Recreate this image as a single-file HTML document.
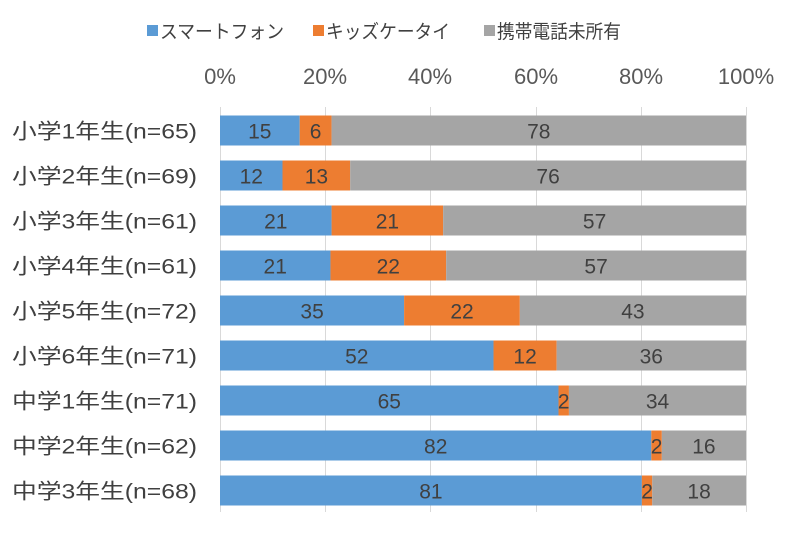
<!DOCTYPE html>
<html><head><meta charset="utf-8"><style>
body{margin:0;background:#fff;width:800px;height:534px;overflow:hidden;font-family:"Liberation Sans","Noto Sans CJK JP",sans-serif;}
</style></head><body>
<svg width="800" height="534" xmlns="http://www.w3.org/2000/svg" font-family="Liberation Sans, Noto Sans CJK JP, sans-serif">
<g font-size="19" fill="#404040">
<rect x="147" y="25" width="11" height="11" fill="#5B9BD5"/><text x="160" y="38" textLength="124" lengthAdjust="spacingAndGlyphs">スマートフォン</text>
<rect x="313" y="25" width="11" height="11" fill="#ED7D31"/><text x="326" y="38" textLength="124" lengthAdjust="spacingAndGlyphs">キッズケータイ</text>
<rect x="484" y="25" width="11" height="11" fill="#A5A5A5"/><text x="497" y="38" textLength="124" lengthAdjust="spacingAndGlyphs">携帯電話未所有</text>
</g>
<g font-size="22" fill="#595959" text-anchor="middle">
<text x="220" y="84">0%</text><text x="325" y="84">20%</text><text x="430" y="84">40%</text><text x="536" y="84">60%</text><text x="641" y="84">80%</text><text x="746" y="84">100%</text>
</g>
<g stroke="#D9D9D9" stroke-width="1">
<line x1="220.5" y1="107" x2="220.5" y2="512"/><line x1="325.5" y1="107" x2="325.5" y2="512"/><line x1="430.5" y1="107" x2="430.5" y2="512"/><line x1="536.5" y1="107" x2="536.5" y2="512"/><line x1="641.5" y1="107" x2="641.5" y2="512"/><line x1="746.5" y1="107" x2="746.5" y2="512"/>
</g>
<g>
<rect x="220" y="115.5" width="79.70" height="30" fill="#5B9BD5"/><rect x="299.70" y="115.5" width="31.88" height="30" fill="#ED7D31"/><rect x="331.58" y="115.5" width="414.42" height="30" fill="#A5A5A5"/>
<rect x="220" y="160.5" width="62.50" height="30" fill="#5B9BD5"/><rect x="282.50" y="160.5" width="67.70" height="30" fill="#ED7D31"/><rect x="350.20" y="160.5" width="395.80" height="30" fill="#A5A5A5"/>
<rect x="220" y="205.5" width="111.58" height="30" fill="#5B9BD5"/><rect x="331.58" y="205.5" width="111.58" height="30" fill="#ED7D31"/><rect x="443.16" y="205.5" width="302.84" height="30" fill="#A5A5A5"/>
<rect x="220" y="250.5" width="110.46" height="30" fill="#5B9BD5"/><rect x="330.46" y="250.5" width="115.72" height="30" fill="#ED7D31"/><rect x="446.18" y="250.5" width="299.82" height="30" fill="#A5A5A5"/>
<rect x="220" y="295.5" width="184.10" height="30" fill="#5B9BD5"/><rect x="404.10" y="295.5" width="115.72" height="30" fill="#ED7D31"/><rect x="519.82" y="295.5" width="226.18" height="30" fill="#A5A5A5"/>
<rect x="220" y="340.5" width="273.52" height="30" fill="#5B9BD5"/><rect x="493.52" y="340.5" width="63.12" height="30" fill="#ED7D31"/><rect x="556.64" y="340.5" width="189.36" height="30" fill="#A5A5A5"/>
<rect x="220" y="385.5" width="338.51" height="30" fill="#5B9BD5"/><rect x="558.51" y="385.5" width="10.42" height="30" fill="#ED7D31"/><rect x="568.93" y="385.5" width="177.07" height="30" fill="#A5A5A5"/>
<rect x="220" y="430.5" width="431.32" height="30" fill="#5B9BD5"/><rect x="651.32" y="430.5" width="10.52" height="30" fill="#ED7D31"/><rect x="661.84" y="430.5" width="84.16" height="30" fill="#A5A5A5"/>
<rect x="220" y="475.5" width="421.84" height="30" fill="#5B9BD5"/><rect x="641.84" y="475.5" width="10.42" height="30" fill="#ED7D31"/><rect x="652.26" y="475.5" width="93.74" height="30" fill="#A5A5A5"/>
</g>
<g font-size="21" fill="#404040">
<text x="12" y="138.5" textLength="185" lengthAdjust="spacingAndGlyphs">小学1年生(n=65)</text>
<text x="12" y="183.5" textLength="185" lengthAdjust="spacingAndGlyphs">小学2年生(n=69)</text>
<text x="12" y="228.5" textLength="185" lengthAdjust="spacingAndGlyphs">小学3年生(n=61)</text>
<text x="12" y="273.5" textLength="185" lengthAdjust="spacingAndGlyphs">小学4年生(n=61)</text>
<text x="12" y="318.5" textLength="185" lengthAdjust="spacingAndGlyphs">小学5年生(n=72)</text>
<text x="12" y="363.5" textLength="185" lengthAdjust="spacingAndGlyphs">小学6年生(n=71)</text>
<text x="12" y="408.5" textLength="185" lengthAdjust="spacingAndGlyphs">中学1年生(n=71)</text>
<text x="12" y="453.5" textLength="185" lengthAdjust="spacingAndGlyphs">中学2年生(n=62)</text>
<text x="12" y="498.5" textLength="185" lengthAdjust="spacingAndGlyphs">中学3年生(n=68)</text>
</g>
<g font-size="21" fill="#404040" text-anchor="middle">
<text x="259.8" y="138.5">15</text><text x="315.6" y="138.5">6</text><text x="538.8" y="138.5">78</text>
<text x="251.3" y="183.5">12</text><text x="316.4" y="183.5">13</text><text x="548.1" y="183.5">76</text>
<text x="275.8" y="228.5">21</text><text x="387.4" y="228.5">21</text><text x="594.6" y="228.5">57</text>
<text x="275.2" y="273.5">21</text><text x="388.3" y="273.5">22</text><text x="596.1" y="273.5">57</text>
<text x="312.1" y="318.5">35</text><text x="462.0" y="318.5">22</text><text x="632.9" y="318.5">43</text>
<text x="356.8" y="363.5">52</text><text x="525.1" y="363.5">12</text><text x="651.3" y="363.5">36</text>
<text x="389.3" y="408.5">65</text><text x="563.7" y="408.5">2</text><text x="657.5" y="408.5">34</text>
<text x="435.7" y="453.5">82</text><text x="656.6" y="453.5">2</text><text x="703.9" y="453.5">16</text>
<text x="430.9" y="498.5">81</text><text x="647.1" y="498.5">2</text><text x="699.1" y="498.5">18</text>
</g>
</svg>
</body></html>
